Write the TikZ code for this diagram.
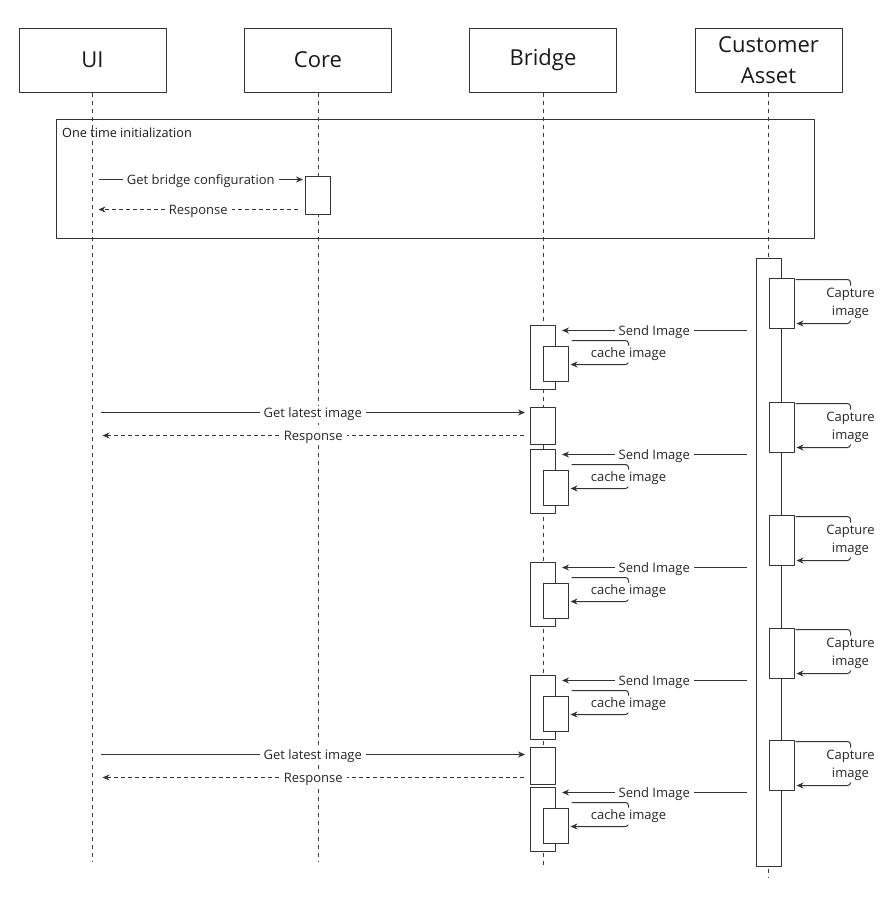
\documentclass[tikz,border=0pt]{standalone}
\usepackage{fontspec}
\setmainfont{Open Sans}
\usetikzlibrary{arrows.meta,positioning,calc}

\begin{document}
\begin{tikzpicture}[
    x=1pt,
    y=-1pt,
    >={Stealth[length=7pt,width=6pt]},
    line join=round,
    head/.style={
        draw=black!80,
        line width=1pt,
        fill=white,
        inner sep=0pt,
        align=center,
        text=black!90,
        font=\fontsize{22}{31}\selectfont,
        minimum width=147pt,
        minimum height=64pt
    },
    life/.style={line width=1pt,black!75,dash pattern=on 4pt off 4pt},
    frame/.style={draw=black!80,line width=1pt,inner sep=0pt},
    act/.style={draw=black!80,line width=1pt,fill=white,inner sep=0pt,minimum width=25pt},
    msg/.style={->,line width=1pt,black!80},
    reply/.style={msg,dash pattern=on 4pt off 3pt},
    loop/.style={msg,rounded corners=3pt},
    lbl/.style={fill=white,inner xsep=4pt,inner ysep=2pt,yshift=-1.5pt,text=black!85,align=center,font=\fontsize{13}{18}\selectfont}
]
\useasboundingbox (0,0) rectangle (889,910);

% Participants.
\node[head] (ui) at (92.5,60) {UI};
\node[head] (core) at (318,60) {Core};
\node[head] (bridge) at (543,60) {Bridge};
\node[head] (asset) at (768.5,60) {Customer\\Asset};

\coordinate (uiend) at (92.5,862);
\coordinate (coreend) at (318,862);
\coordinate (bridgeend) at (543,868);
\coordinate (assetend) at (768.5,878);

\draw[life] (ui) -- (uiend);
\draw[life] (core) -- (coreend);
\draw[life] (bridge) -- (bridgeend);
\draw[life] (asset) -- (assetend);

% Initialization.
\node[frame,minimum width=758pt,minimum height=119pt] (init) at (435,178.5) {};
\node[anchor=base west,inner sep=0pt,text=black!90,font=\fontsize{12.7}{15}\selectfont] (initlbl) at (62,137) {One time initialization};

\node[act,minimum height=38pt] (cfg) at (318,195) {};
\draw[msg] ($(ui |- cfg.north)+(6,4)$) -- node[lbl]{Get bridge configuration} ($(cfg.north west)+(-2,4)$);
\draw[reply] ($(cfg.north west)+(-7,34)$) -- node[lbl]{Response} ($(ui |- cfg.north)+(6,34)$);

% Capture and send.
\node[act,minimum height=608pt] (run) at (768.5,562) {};

\foreach \t [count=\i] in {278,402,515,628,740} {
    \node[act,minimum height=50pt] (cap\i) at (781.5,\t+25) {};
    \draw[loop] ($(cap\i.north east)+(1,2)$) -- ++(55,0)
        -- node[lbl]{Capture\\image} ++(0,44) -- ($(cap\i.north east)+(2,46)$);

    \node[act,minimum height=64pt] (store\i) at (543,\t+79) {};
    \node[act,minimum height=35pt] (cache\i) at (555.5,\t+85.5) {};
    \draw[msg] ($(run.west |- store\i.north)+(-9,6)$) -- node[lbl]{Send Image} ($(store\i.north east)+(6,6)$);
    \draw[loop] ($(cache\i.north east)+(3,-5)$) -- ++(57,0)
        -- node[lbl]{cache image} ++(0,24) -- ($(cache\i.north east)+(2,19)$);
}

% Polling.
\node[act,minimum height=37pt] (get1) at (543,425.5) {};
\node[act,minimum height=37pt] (get2) at (543,765.5) {};

\draw[msg] ($(ui |- get1.north)+(8,6)$) -- node[lbl]{Get latest image} ($(get1.north west)+(-5,6)$);
\draw[reply] ($(get1.north west)+(-6,29)$) -- node[lbl]{Response} ($(ui |- get1.north)+(10,29)$);
\draw[msg] ($(ui |- get2.north)+(8,8)$) -- node[lbl]{Get latest image} ($(get2.north west)+(-5,8)$);
\draw[reply] ($(get2.north west)+(-6,31)$) -- node[lbl]{Response} ($(ui |- get2.north)+(10,31)$);

\end{tikzpicture}
\end{document}
